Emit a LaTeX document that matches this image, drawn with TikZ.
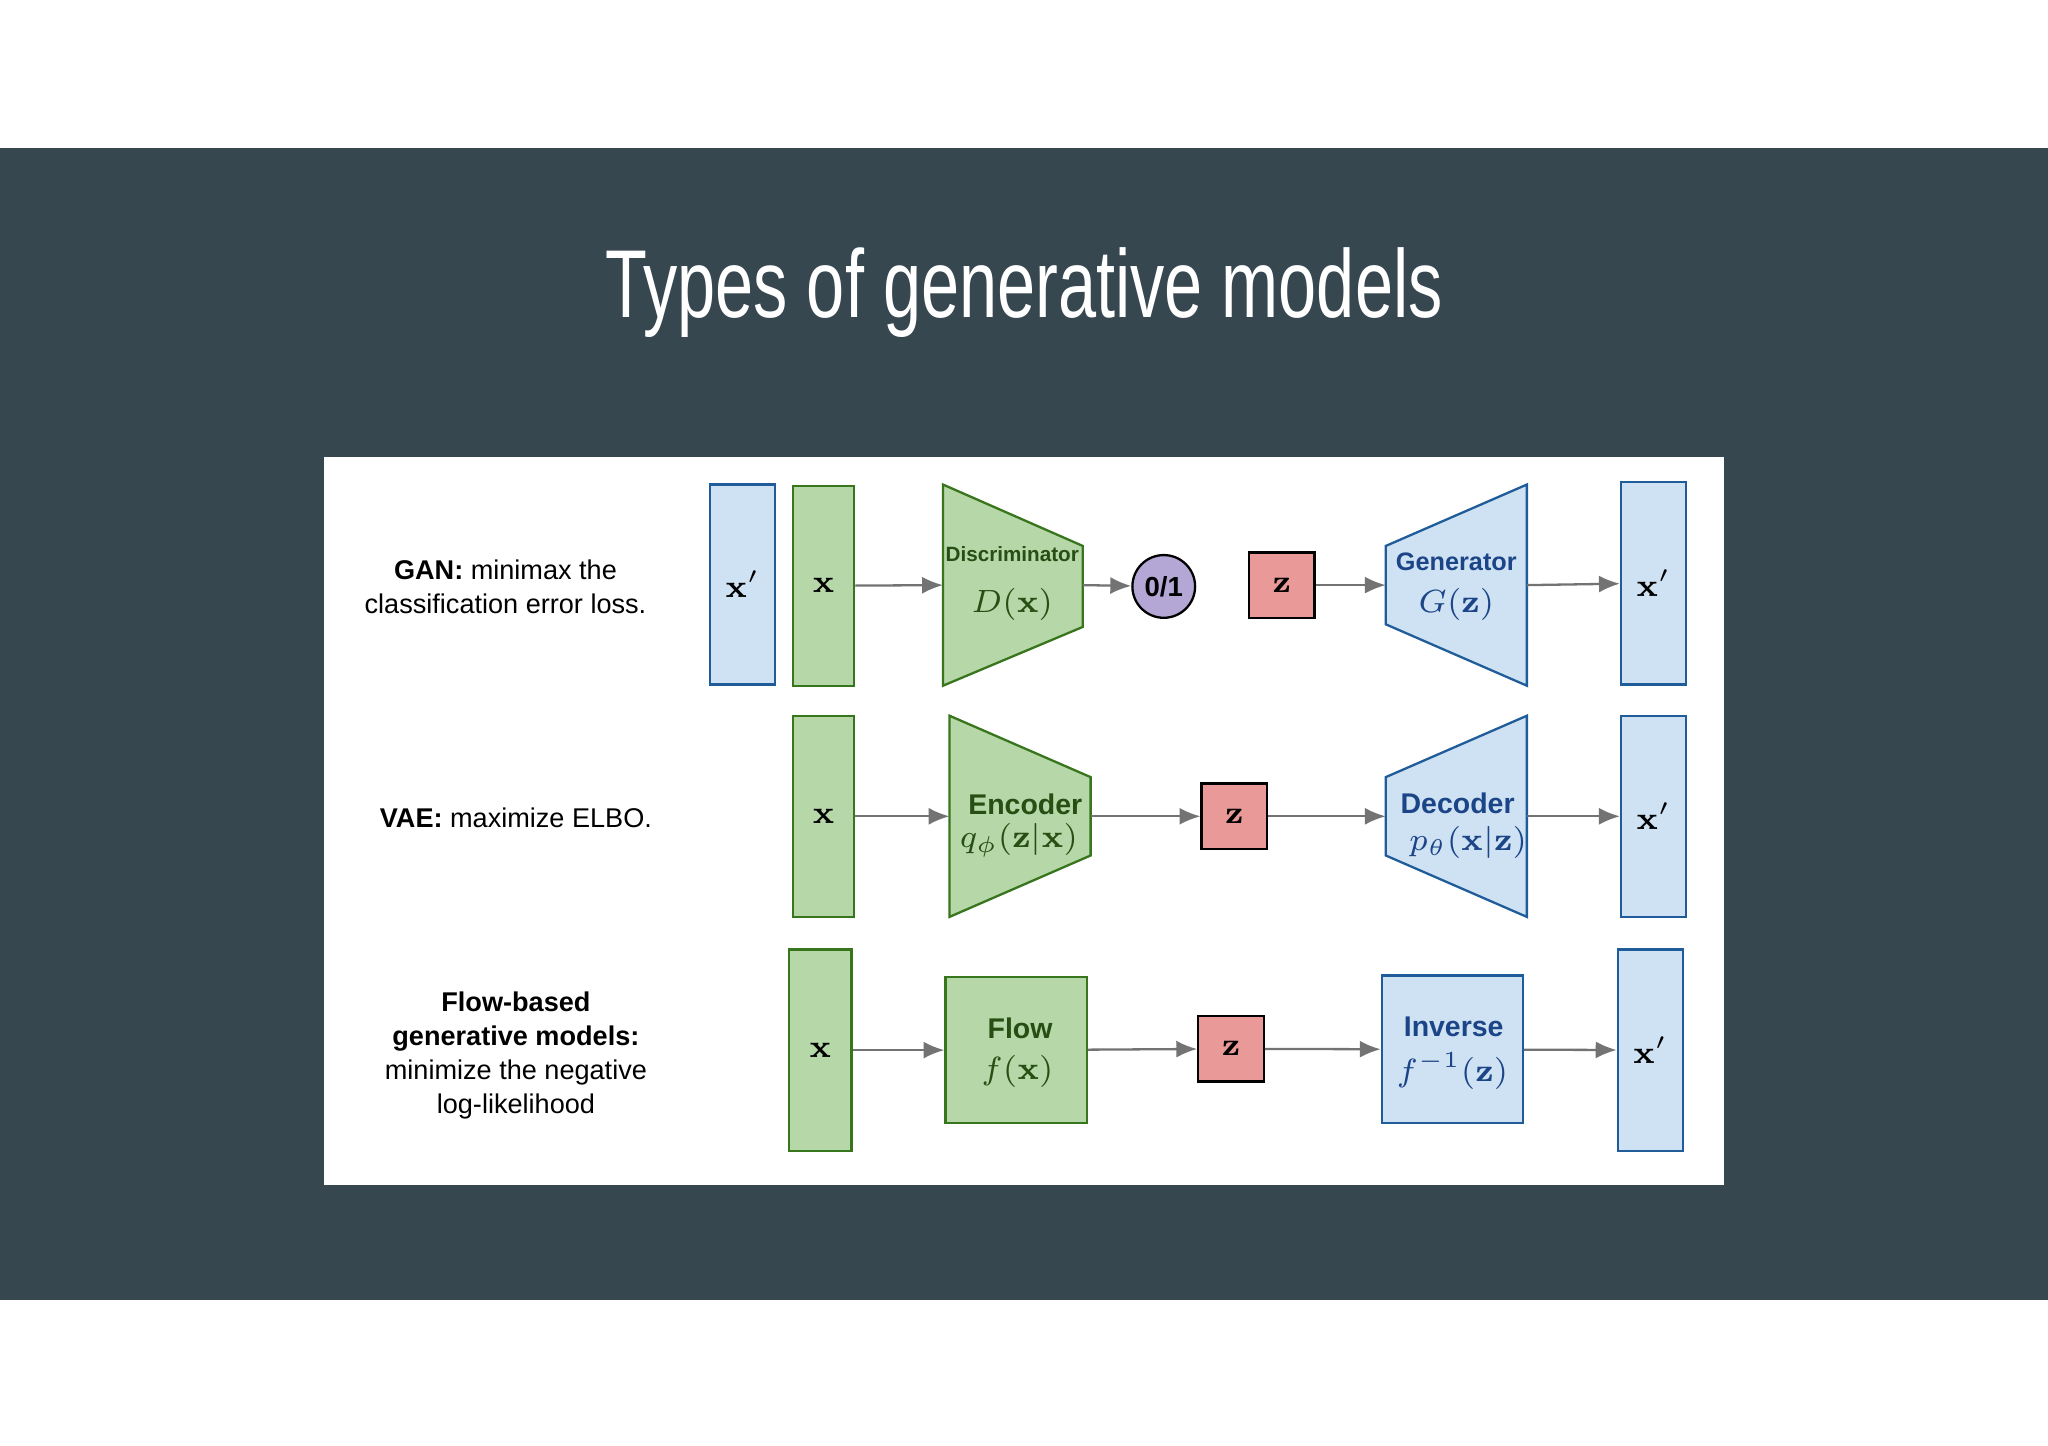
\documentclass[tikz,border=0pt]{standalone}
\usepackage{amsmath}
\usepackage[no-math]{fontspec}
\setmainfont{Liberation Sans}
\usetikzlibrary{arrows.meta}
\definecolor{band}{RGB}{55,71,79}
\definecolor{gfill}{RGB}{182,215,168}
\definecolor{gline}{RGB}{56,118,29}
\definecolor{gtext}{RGB}{39,78,19}
\definecolor{bfill}{RGB}{207,226,243}
\definecolor{bline}{RGB}{31,92,153}
\definecolor{btext}{RGB}{28,69,135}
\definecolor{rfill}{RGB}{234,153,153}
\definecolor{pfill}{RGB}{180,167,214}
\begin{document}
\begin{tikzpicture}[x=0.01cm,y=-0.01cm,line width=0.5pt,
  green/.style={draw=gline,fill=gfill},
  blue/.style={draw=bline,fill=bfill},
  red/.style={draw=black,fill=rfill,minimum size=0.5cm},
  arr/.style={draw=black!55,-{Latex[length=1.6mm,width=1.3mm]}},
  lbl/.style={font=\fontsize{5.9}{7.4}\selectfont,align=center},
  mth/.style={font=\fontsize{7.5}{9}\selectfont},
  smth/.style={font=\fontsize{6.8}{8}\selectfont},
  small/.style={font=\fontsize{4.5}{5.5}\selectfont\bfseries}]
\useasboundingbox (0,0) rectangle (1568,1107);
\fill[white] (0,0) rectangle (1568,1107);
\fill[band] (0,113) rectangle (1568,995);
\fill[white] (248,350) rectangle (1320,907);
\node[white] (title) at (784,224) {\scalebox{0.71}[1]{\fontsize{21}{25}\selectfont Types of generative models}};

% left labels
\node[lbl] (gant) at (387,449) {\textbf{GAN:} minimax the\\classification error loss.};
\node[lbl] (vaet) at (395,626) {\textbf{VAE:} maximize ELBO.};
\node[lbl] (flowt) at (395,808) {\textbf{Flow-based}\\\textbf{generative models:}\\minimize the negative\\log-likelihood};

% GAN row
\node[blue,minimum width=0.47cm,minimum height=1.53cm,mth] (gxp) at (568.5,447.5) {$\mathbf{x}'$};
\node[green,minimum width=0.47cm,minimum height=1.53cm,mth] (gx) at (630.5,448.5) {$\mathbf{x}$};
\draw[green] (722,371) -- (829,418) -- (829,480) -- (722,525) -- cycle;
\coordinate (din) at (722,448); \coordinate (dout) at (829,448);
\node[small,text=gtext] (dl) at (775,424) {Discriminator};
\node[mth,text=gtext] (dm) at (775,463) {$D(\mathbf{x})$};
\node[circle,draw=black,fill=pfill,minimum size=0.48cm,inner sep=0pt,font=\fontsize{6}{7}\selectfont\bfseries] (c) at (891,449) {0/1};
\node[red,mth] (gz) at (981.5,448) {$\mathbf{z}$};
\draw[blue] (1061,418) -- (1169,371) -- (1169,525) -- (1061,478) -- cycle;
\coordinate (gin) at (1061,448); \coordinate (gout) at (1169,448);
\node[font=\fontsize{5.5}{7}\selectfont\bfseries,text=btext] (gl) at (1115,430) {Generator};
\node[mth,text=btext] (gm) at (1115,463) {$G(\mathbf{z})$};
\node[blue,minimum width=0.48cm,minimum height=1.55cm,mth] (gxo) at (1266,446.5) {$\mathbf{x}'$};
\draw[arr] (gx) -- (din);
\draw[arr] (dout) -- (c);
\draw[arr] (gz) -- (gin);
\draw[arr] (gout) -- (gxo);

% VAE row
\node[green,minimum width=0.47cm,minimum height=1.54cm,mth] (vx) at (630.5,625) {$\mathbf{x}$};
\draw[green] (727,548) -- (835,595) -- (835,655) -- (727,702) -- cycle;
\coordinate (ein) at (727,625); \coordinate (eout) at (835,625);
\node[font=\fontsize{6.2}{8}\selectfont\bfseries,text=gtext] (el) at (785,616) {Encoder};
\node[smth,text=gtext,inner sep=1pt] (em) at (780,643) {$q_\phi(\mathbf{z}|\mathbf{x})$};
\node[red,mth] (vz) at (945,625) {$\mathbf{z}$};
\draw[blue] (1061,595) -- (1169,548) -- (1169,702) -- (1061,655) -- cycle;
\coordinate (vdin) at (1061,625); \coordinate (vdout) at (1169,625);
\node[font=\fontsize{6.2}{8}\selectfont\bfseries,text=btext] (vdl) at (1116,615) {Decoder};
\node[smth,text=btext,inner sep=1pt] (vdm) at (1124,645) {$p_\theta(\mathbf{x}|\mathbf{z})$};
\node[blue,minimum width=0.48cm,minimum height=1.54cm,mth] (vxo) at (1266,625) {$\mathbf{x}'$};
\draw[arr] (vx) -- (ein);
\draw[arr] (eout) -- (vz);
\draw[arr] (vz) -- (vdin);
\draw[arr] (vdout) -- (vxo);

% Flow row
\node[green,minimum width=0.48cm,minimum height=1.54cm,mth] (fx) at (628,804) {$\mathbf{x}$};
\node[green,minimum width=1.08cm,minimum height=1.12cm] (fb) at (778,804) {};
\node[font=\fontsize{6.2}{8}\selectfont\bfseries,text=gtext] (fl) at (781,787) {Flow};
\node[mth,text=gtext] (fm) at (779,820) {$f(\mathbf{x})$};
\node[red,mth] (fz) at (942.5,803) {$\mathbf{z}$};
\node[blue,minimum width=1.08cm,minimum height=1.13cm] (ib) at (1112,803.5) {};
\node[font=\fontsize{6.2}{8}\selectfont\bfseries,text=btext] (il) at (1113,786) {Inverse};
\node[mth,text=btext] (im) at (1112,820) {$f^{-1}(\mathbf{z})$};
\node[blue,minimum width=0.47cm,minimum height=1.54cm,mth] (fxo) at (1263.5,804) {$\mathbf{x}'$};
\draw[arr] (fx) -- (fb);
\draw[arr] (fb) -- (fz);
\draw[arr] (fz) -- (ib);
\draw[arr] (ib) -- (fxo);
\end{tikzpicture}
\end{document}
